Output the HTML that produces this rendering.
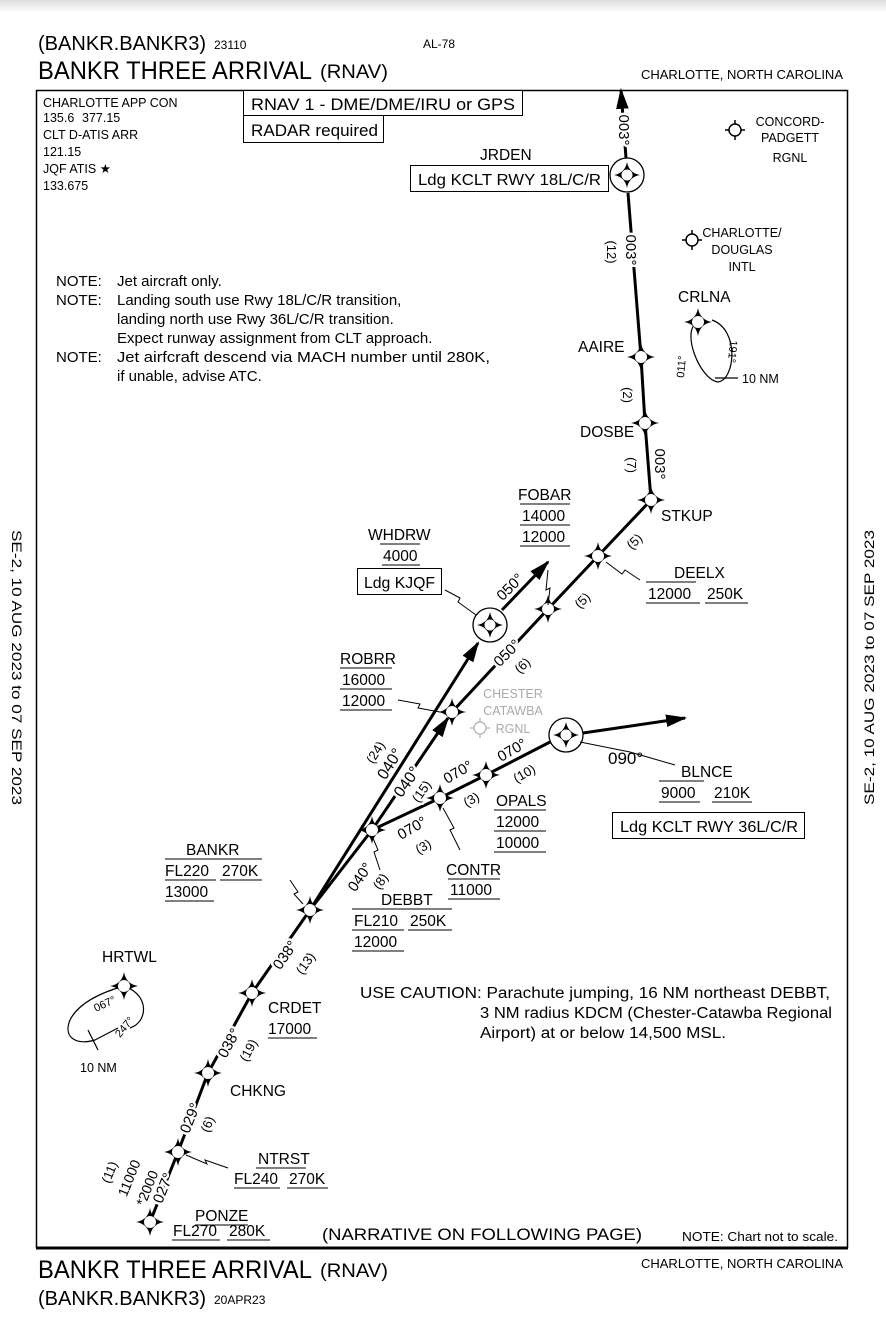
<!DOCTYPE html>
<html><head><meta charset="utf-8"><style>
html,body{margin:0;padding:0;background:#fff}
svg{display:block}
text{font-family:"Liberation Sans",sans-serif;fill:#000}
.r text{text-anchor:middle;stroke:#fff;stroke-width:5px;paint-order:stroke;stroke-linejoin:round}
</style></head><body>
<svg width="886" height="1322" viewBox="0 0 886 1322" xmlns="http://www.w3.org/2000/svg">
<defs>
<linearGradient id="g" x1="0" y1="0" x2="0" y2="1"><stop offset="0" stop-color="#ddd"/><stop offset="1" stop-color="#fff"/></linearGradient>
<g id="wp"><path d="M0,-14 Q2,-2 14,0 Q2,2 0,14 Q-2,2 -14,0 Q-2,-2 0,-14Z" fill="#000"/><circle r="6" fill="#fff"/></g>
<g id="cwp"><circle r="17" fill="#fff" stroke="#000" stroke-width="1.3"/><path d="M0,-13 Q2,-2 13,0 Q2,2 0,13 Q-2,2 -13,0 Q-2,-2 0,-13Z" fill="#000"/><circle r="5.5" fill="#fff"/></g>
<g id="apt"><circle r="6" fill="none" stroke="#000" stroke-width="1.5"/><path d="M0,-10V-6M0,6V10M-10,0H-6M6,0H10" stroke="#000" stroke-width="1.5"/></g>
<g id="aptg"><circle r="6" fill="none" stroke="#bbb" stroke-width="1.5"/><path d="M0,-10V-6M0,6V10M-10,0H-6M6,0H10" stroke="#bbb" stroke-width="1.5"/></g>
<marker id="ar" viewBox="0 0 10 10" refX="9" refY="5" markerWidth="7" markerHeight="7" orient="auto"><path d="M0,2L10,5L0,8Z" fill="#000"/></marker>
</defs>
<rect x="0" y="0" width="886" height="12" fill="url(#g)"/>
<!-- header -->
<text x="38" y="50" font-size="20" textLength="168" lengthAdjust="spacingAndGlyphs">(BANKR.BANKR3)</text><text x="214" y="49" font-size="12">23110</text>
<text x="423" y="48" font-size="12">AL-78</text>
<text x="38" y="79" font-size="25" textLength="274" lengthAdjust="spacingAndGlyphs">BANKR THREE ARRIVAL</text><text x="320" y="78" font-size="19" textLength="68" lengthAdjust="spacingAndGlyphs">(RNAV)</text>
<text x="843" y="79" font-size="13" text-anchor="end">CHARLOTTE, NORTH CAROLINA</text>
<!-- frame -->
<rect x="36.5" y="90.5" width="811" height="1157" fill="none" stroke="#000" stroke-width="1.5"/>
<line x1="36" y1="1248" x2="848" y2="1248" stroke="#000" stroke-width="3"/>
<!-- comms -->
<g font-size="12.5"><text x="43" y="107">CHARLOTTE APP CON</text><text x="43" y="122">135.6</text><text x="82" y="122">377.15</text><text x="43" y="139">CLT D-ATIS ARR</text><text x="43" y="156">121.15</text><text x="43" y="173">JQF ATIS ★</text><text x="43" y="190">133.675</text></g>
<rect x="243.5" y="90.5" width="279" height="25" fill="#fff" stroke="#000"/><text x="251" y="110" font-size="16.5" textLength="264" lengthAdjust="spacingAndGlyphs">RNAV 1 - DME/DME/IRU or GPS</text>
<rect x="243.5" y="115.5" width="140" height="27" fill="#fff" stroke="#000"/><text x="251" y="136" font-size="16.5" textLength="127" lengthAdjust="spacingAndGlyphs">RADAR required</text>
<!-- airports -->
<use href="#apt" x="735" y="130"/><g font-size="12.5" text-anchor="middle"><text x="790" y="126">CONCORD-</text><text x="790" y="142">PADGETT</text><text x="790" y="162">RGNL</text></g>
<use href="#apt" x="692" y="240"/><g font-size="12.5" text-anchor="middle"><text x="742" y="237">CHARLOTTE/</text><text x="742" y="254">DOUGLAS</text><text x="742" y="271">INTL</text></g>
<use href="#aptg" x="480" y="728"/><g font-size="12.5" text-anchor="middle"><text x="513" y="698" style="fill:#aaa">CHESTER</text><text x="513" y="715" style="fill:#aaa">CATAWBA</text><text x="513" y="733" style="fill:#aaa">RGNL</text></g>
<!-- notes -->
<g font-size="15"><text x="56" y="286">NOTE:</text><text x="117" y="286">Jet aircraft only.</text><text x="56" y="305">NOTE:</text><text x="117" y="305">Landing south use Rwy 18L/C/R transition,</text><text x="117" y="324">landing north use Rwy 36L/C/R transition.</text><text x="117" y="343">Expect runway assignment from CLT approach.</text><text x="56" y="362">NOTE:</text><text x="117" y="362" textLength="373" lengthAdjust="spacingAndGlyphs">Jet airfcraft descend via MACH number until 280K,</text><text x="117" y="381">if unable, advise ATC.</text></g>
<!-- routes -->
<g stroke="#000" stroke-width="3" fill="none">
<polyline points="150,1222 178,1152 208,1073 252,993 310,910"/>
<line x1="310" y1="910" x2="478" y2="643" marker-end="url(#ar)"/>
<line x1="502" y1="610" x2="548" y2="562" marker-end="url(#ar)"/>
<line x1="310" y1="910" x2="372" y2="830"/>
<line x1="372" y1="830" x2="448" y2="718" marker-end="url(#ar)"/>
<polyline points="452,712 548,609 598,556 651,500"/>
<line x1="651" y1="500" x2="645" y2="423"/><line x1="645" y1="423" x2="641" y2="357"/>
<line x1="641" y1="357" x2="628" y2="193"/>
<line x1="626" y1="158" x2="621" y2="90" marker-end="url(#ar)"/>
<polyline points="372,830 440,798 486,775 550,742"/>
<line x1="583" y1="733" x2="685" y2="718" marker-end="url(#ar)"/>
</g>
<!-- holds -->
<g stroke="#000" stroke-width="1.2" fill="none">
<path d="M124,986 C110,990 80,1000 70,1020 C62,1040 80,1045 95,1040 L118,1028"/>
<path d="M124,986 C150,995 148,1022 130,1028"/>
<line x1="88" y1="1030" x2="98" y2="1050"/>
<path d="M698,322 C680,330 700,380 718,382 C735,380 740,330 712,320"/>
<line x1="715" y1="378" x2="738" y2="378"/>
</g>
<text x="80" y="1072" font-size="12.5">10 NM</text>
<text x="742" y="383" font-size="12.5">10 NM</text>
<g font-size="11"><text transform="translate(96,1012) rotate(-25)">067°</text><text transform="translate(120,1038) rotate(-50)">247°</text><text transform="translate(684,378) rotate(-85)">011°</text><text transform="translate(730,340) rotate(95)">191°</text></g>
<!-- track labels -->
<g font-size="15" class="r">
<text transform="translate(390,764) rotate(-58)" y="5" font-size="16">040°</text><text transform="translate(375,752) rotate(-58)" y="5" font-size="13">(24)</text>
<text transform="translate(407,782) rotate(-55)" y="5" font-size="16">040°</text><text transform="translate(421,791) rotate(-55)" y="5" font-size="13">(15)</text>
<text transform="translate(360,877) rotate(-55)" y="5">040°</text><text transform="translate(380,881) rotate(-55)" y="5" font-size="13">(8)</text>
<text transform="translate(510,587) rotate(-45)" y="5">050°</text>
<text transform="translate(507,653) rotate(-45)" y="5">050°</text><text transform="translate(522,665) rotate(-45)" y="5" font-size="13">(6)</text>
<text transform="translate(582,600) rotate(-45)" y="5" font-size="13">(5)</text><text transform="translate(634,541) rotate(-45)" y="5" font-size="13">(5)</text>
<text transform="translate(412,828) rotate(-30)" y="5">070°</text><text transform="translate(423,846) rotate(-30)" y="5" font-size="13">(3)</text>
<text transform="translate(458,772) rotate(-30)" y="5">070°</text><text transform="translate(471,799) rotate(-30)" y="5" font-size="13">(3)</text>
<text transform="translate(512,750) rotate(-30)" y="5">070°</text><text transform="translate(524,773) rotate(-30)" y="5" font-size="13">(10)</text>
<text transform="translate(285,955) rotate(-55)" y="5">038°</text><text transform="translate(305,963) rotate(-55)" y="5" font-size="13">(13)</text>
<text transform="translate(229,1043) rotate(-62)" y="5">038°</text><text transform="translate(248,1050) rotate(-62)" y="5" font-size="13">(19)</text>
<text transform="translate(190,1118) rotate(-68)" y="5">029°</text><text transform="translate(207,1124) rotate(-68)" y="5" font-size="13">(6)</text>
<text transform="translate(163,1188) rotate(-68)" y="5">027°</text><text transform="translate(147,1188) rotate(-68)" y="5" font-size="14">*2000</text>
<text transform="translate(129,1178) rotate(-68)" y="5" font-size="14">11000</text><text transform="translate(109,1172) rotate(-68)" y="5" font-size="13">(11)</text>
<text transform="translate(624,130) rotate(90)" y="5">003°</text>
<text transform="translate(612,252) rotate(90)" y="5" font-size="13">(12)</text><text transform="translate(631,250) rotate(90)" y="5">003°</text>
<text transform="translate(628,395) rotate(90)" y="5" font-size="13">(2)</text>
<text transform="translate(632,465) rotate(90)" y="5" font-size="13">(7)</text><text transform="translate(660,464) rotate(90)" y="5">003°</text>
</g>
<!-- waypoints -->
<use href="#wp" x="150" y="1222"/><use href="#wp" x="178" y="1152"/><use href="#wp" x="208" y="1073"/><use href="#wp" x="252" y="993"/><use href="#wp" x="310" y="910"/><use href="#wp" x="372" y="830"/><use href="#wp" x="440" y="798"/><use href="#wp" x="486" y="775"/><use href="#wp" x="452" y="712"/><use href="#wp" x="548" y="609"/><use href="#wp" x="598" y="556"/><use href="#wp" x="651" y="500"/><use href="#wp" x="645" y="423"/><use href="#wp" x="641" y="357"/><use href="#wp" x="124" y="986"/><use href="#wp" x="698" y="322"/>
<use href="#cwp" x="490" y="625"/><use href="#cwp" x="566" y="735"/><use href="#cwp" x="627" y="175"/>
<!-- leader lines -->
<g stroke="#000" stroke-width="1" fill="none">
<polyline points="445,590 460,598 458,602 476,615"/><polyline points="398,700 420,704 418,708 440,712"/><polyline points="548,570 546,590 550,588 548,605"/>
<polyline points="640,580 625,570 622,574 606,562"/><polyline points="675,765 630,752 580,742"/><polyline points="290,880 298,892 294,894 303,904"/>
<polyline points="380,870 374,852 378,850 373,838"/><polyline points="460,850 450,830 454,828 443,808"/><polyline points="228,1168 205,1160 207,1164 186,1155"/>
</g>
<!-- labels -->
<g font-size="15.5">
<text x="368" y="540">WHDRW</text><text x="383" y="561">4000</text>
<rect x="357.5" y="568.5" width="84" height="26" fill="#fff" stroke="#000"/><text x="364" y="588" textLength="71" lengthAdjust="spacingAndGlyphs">Ldg KJQF</text>
<text x="518" y="500">FOBAR</text><text x="522" y="521">14000</text><text x="522" y="542">12000</text>
<text x="340" y="664">ROBRR</text><text x="342" y="685">16000</text><text x="342" y="706">12000</text>
<text x="674" y="578">DEELX</text><text x="648" y="599">12000</text><text x="707" y="599">250K</text>
<text x="661" y="521">STKUP</text><text x="580" y="437">DOSBE</text><text x="578" y="352">AAIRE</text><text x="678" y="302">CRLNA</text>
<text x="480" y="160">JRDEN</text><rect x="410.5" y="165.5" width="198" height="26" fill="#fff" stroke="#000"/><text x="418" y="185" textLength="183" lengthAdjust="spacingAndGlyphs">Ldg KCLT RWY 18L/C/R</text>
<text x="681" y="777">BLNCE</text><text x="661" y="798">9000</text><text x="714" y="798">210K</text>
<rect x="612.5" y="812.5" width="192" height="26" fill="#fff" stroke="#000"/><text x="620" y="832" textLength="178" lengthAdjust="spacingAndGlyphs">Ldg KCLT RWY 36L/C/R</text>
<text x="496" y="806">OPALS</text><text x="496" y="827">12000</text><text x="496" y="848">10000</text>
<text x="446" y="875">CONTR</text><text x="450" y="895">11000</text>
<text x="186" y="855">BANKR</text><text x="165" y="876">FL220</text><text x="222" y="876">270K</text><text x="165" y="897">13000</text>
<text x="381" y="905">DEBBT</text><text x="354" y="926">FL210</text><text x="410" y="926">250K</text><text x="354" y="947">12000</text>
<text x="102" y="962">HRTWL</text><text x="268" y="1013">CRDET</text><text x="268" y="1034">17000</text>
<text x="230" y="1096">CHKNG</text><text x="258" y="1164">NTRST</text><text x="234" y="1184">FL240</text><text x="289" y="1184">270K</text>
<text x="195" y="1221">PONZE</text><text x="173" y="1236">FL270</text><text x="229" y="1236">280K</text>
<text x="360" y="998" textLength="470" lengthAdjust="spacingAndGlyphs">USE CAUTION: Parachute jumping, 16 NM northeast DEBBT,</text>
<text x="480" y="1018" textLength="352" lengthAdjust="spacingAndGlyphs">3 NM radius KDCM (Chester-Catawba Regional</text>
<text x="480" y="1038" textLength="246" lengthAdjust="spacingAndGlyphs">Airport) at or below 14,500 MSL.</text>
<text x="322" y="1240" font-size="17" textLength="320" lengthAdjust="spacingAndGlyphs">(NARRATIVE ON FOLLOWING PAGE)</text>
<text x="608" y="764" font-size="17">090°</text>
</g>
<text x="682" y="1241" font-size="12.5" textLength="156" lengthAdjust="spacingAndGlyphs">NOTE:  Chart not to scale.</text>
<!-- underlines -->
<g stroke="#000" stroke-width="1"><path d="M380,544H420M382,565H420M520,504H570M520,525H570M520,546H570M340,668H392M340,689H392M340,710H392M646,582H696M646,603H700M705,603H748M659,781H704M659,802H700M712,802H752M494,810H546M494,831H546M494,852H546M448,879H500M448,899H500M165,859H262M165,880H216M220,880H262M165,901H214M352,909H452M352,930H404M408,930H452M352,951H404M268,1038H317M256,1168H306M234,1188H280M287,1188H328M195,1225H248M172,1240H220M227,1240H270"/></g>
<!-- side -->
<text transform="translate(12,530) rotate(90)" font-size="14" textLength="275" lengthAdjust="spacingAndGlyphs">SE-2,  10 AUG 2023  to  07 SEP 2023</text>
<text transform="translate(874,805) rotate(-90)" font-size="14" textLength="275" lengthAdjust="spacingAndGlyphs">SE-2,  10 AUG 2023  to  07 SEP 2023</text>
<!-- footer -->
<text x="38" y="1278" font-size="25" textLength="274" lengthAdjust="spacingAndGlyphs">BANKR THREE ARRIVAL</text><text x="320" y="1277" font-size="19" textLength="68" lengthAdjust="spacingAndGlyphs">(RNAV)</text>
<text x="843" y="1268" font-size="13" text-anchor="end">CHARLOTTE, NORTH CAROLINA</text>
<text x="38" y="1305" font-size="20" textLength="168" lengthAdjust="spacingAndGlyphs">(BANKR.BANKR3)</text><text x="214" y="1304" font-size="12">20APR23</text>
</svg>
</body></html>
